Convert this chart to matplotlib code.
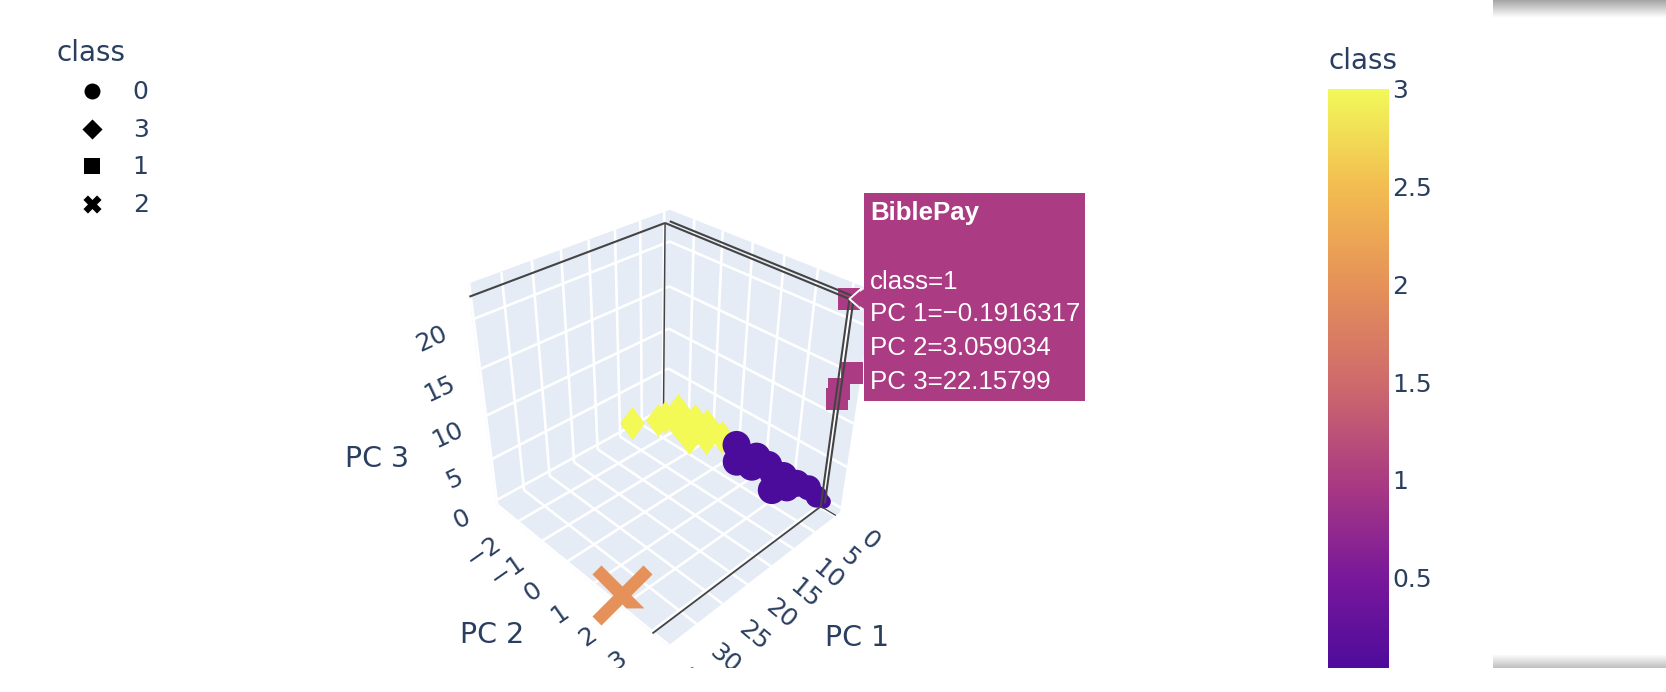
import numpy as np
import matplotlib
matplotlib.use("Agg")
import matplotlib.pyplot as plt
from matplotlib.colors import LinearSegmentedColormap
from matplotlib.patches import Rectangle, Polygon
from matplotlib.path import Path
from matplotlib.transforms import ScaledTranslation

# ---- data -----------------------------------------------------------------
class0_pc1 = [0.07, 3.32, 2.56, 0.06, 0.35, 1.38, 0.77, 4.65, 2.7, 0.67, 0.2, 0.96, 1.08]
class0_pc2 = [0.09, 0.6, 1.03, 0.83, 1.29, 1.62, 1.88, 2.04, 2.27, 2.32, 2.65, 3.02, 3.27]
class0_pc3 = [1.0] * 13
class3_pc1 = [8.24, 4.51, 2.94, -0.09, -0.04, -0.42, 0.17, 4.33, 0.54, 2.33, 2.87, 2.25]
class3_pc2 = [-2.7, -2.31, -2.28, -2.25, -1.56, -1.15, -0.46, -1.04, -0.86, -1.49, -1.81, -0.75]
class3_pc3 = [1.0] * 12
class1_pc1 = [-0.1916317, -0.19, -0.19, -0.19]
class1_pc2 = [3.059034, 3.4, 3.12, 3.09]
class1_pc3 = [22.15799, 15.45, 13.25, 12.13]
class2_pc1 = [35.19]
class2_pc2 = [2.04]
class2_pc3 = [1.0]
pc1_ticks = [0, 5, 10, 15, 20, 25, 30, 35]
pc2_ticks = [-2, -1, 0, 1, 2, 3]
pc3_ticks = [0, 5, 10, 15, 20]
cbar_ticks = [0.5, 1, 1.5, 2, 2.5, 3]
cbar_labels = ["0.5", "1", "1.5", "2", "2.5", "3"]
legend_classes = ["0", "3", "1", "2"]
hover_lines = ["class=1", "PC 1=\u22120.1916317", "PC 2=3.059034", "PC 3=22.15799"]

# ---- scene camera: axis ranges and the box corners on screen ---------------
xr = (-1.2, 35.2); yr = (-2.9, 3.55); zr = (-0.6, 23.35)
corners = [((0,0,0),(669,405)),((1,0,0),(496,508)),((1,1,0),(670,646)),((0,1,0),(836.5,516)),
           ((0,0,1),(669,209)),((1,0,1),(467,289)),((1,1,1),(670,392)),((0,1,1),(877,295))]
A = []
for (i,j,k),(u,v) in corners:
    X = [xr[i], yr[j], zr[k], 1.0]
    A.append(X+[0,0,0,0]+[-u*a for a in X])
    A.append([0,0,0,0]+X+[-v*a for a in X])
P = np.linalg.svd(np.array(A))[2][-1].reshape(3,4)
def proj(x, y, z):
    x = np.asarray(x, float)
    h = P @ np.vstack([x, np.asarray(y, float), np.asarray(z, float), np.ones_like(x)])
    return h[0]/h[2], h[1]/h[2]
def proj1(x, y, z):
    u, v = proj([x], [y], [z])
    return float(u[0]), float(v[0])

W, H = 1666, 692
CLIP_H = 667.5
fig = plt.figure(figsize=(W/100, H/100), dpi=100, facecolor="white")
ax = fig.add_axes([0, 1-CLIP_H/H, 1, CLIP_H/H])
ax.set_xlim(0, W); ax.set_ylim(CLIP_H, 0); ax.axis("off")

FONT = "DejaVu Sans"; INK = "#2a3f5f"; PANE = "#E5ECF6"
PURPLE = "#4C0C9B"; YELLOW = "#F3F955"; MAGENTA = "#AB3B82"; ORANGE = "#E59159"

def pane(pts):
    xy = [proj1(*p) for p in pts]
    ax.add_patch(Polygon(xy, closed=True, fc=PANE, ec="none", zorder=1))
def line3(a, b, **kw):
    u, v = proj([a[0],b[0]], [a[1],b[1]], [a[2],b[2]])
    ax.plot(u, v, solid_capstyle="butt", **kw)

x0,x1 = xr; y0,y1 = yr; z0,z1 = zr
pane([(x0,y0,z0),(x1,y0,z0),(x1,y1,z0),(x0,y1,z0)])
pane([(x0,y0,z0),(x1,y0,z0),(x1,y0,z1),(x0,y0,z1)])
pane([(x0,y0,z0),(x0,y1,z0),(x0,y1,z1),(x0,y0,z1)])
G = dict(color="white", lw=1.9, zorder=2)
for t in pc1_ticks:
    line3((t,y0,z0),(t,y1,z0),**G); line3((t,y0,z0),(t,y0,z1),**G)
for t in pc2_ticks:
    line3((x0,t,z0),(x1,t,z0),**G); line3((x0,t,z0),(x0,t,z1),**G)
for t in pc3_ticks:
    line3((x0,y0,t),(x1,y0,t),**G); line3((x0,y0,t),(x0,y1,t),**G)

# spike lines of the hovered point
hx, hy, hz = class1_pc1[0], class1_pc2[0], class1_pc3[0]
SP = "#444444"
line3((hx,y0,hz),(hx,y0,z0), color=SP, lw=1.1, zorder=3)

# markers
r = np.array([14,14,14,14,14,14,14,14,13,13.5,12.5,11,7])
ax.scatter(*proj(class3_pc1,class3_pc2,class3_pc3),
           s=566, c=YELLOW, lw=0, zorder=4,
           marker=Path([(0,1),(.75,0),(0,-1),(-.75,0),(0,1)], closed=True))
ax.scatter(*proj(class0_pc1,class0_pc2,class0_pc3),
           s=(2*r/1.389)**2, c=PURPLE, lw=0, marker="o", zorder=5)
ax.scatter(*proj(class1_pc1,class1_pc2,class1_pc3),
           s=229, c=MAGENTA, lw=0, marker="s", zorder=5)
d = 0.3
# plotly's x marker, its lower right arm cut flat as in the reference
X_SHAPE = Path([(-1+d,-1),(0,-d),(.13,-.43),(.73,-.43),(d,0),(1,1-d),(1-d,1),(0,d),(-1+d,1),(-1,1-d),(-d,0),(-1,-1+d),(-1+d,-1)], closed=True)
ax.scatter(*proj(class2_pc1,class2_pc2,class2_pc3),
           s=1870, c=ORANGE, lw=0, marker=X_SHAPE, zorder=6)

S2 = dict(color=SP, lw=1.5, zorder=7)
line3((hx,y0,hz),(x1,y0,hz),**S2)
line3((hx,y0,hz),(hx,hy,hz),**S2)
line3((x0,y0,hz),(x0,hy,hz),**S2)
line3((x0,hy,hz),(x0,hy,z0),**S2)
line3((hx,hy,hz),(hx,hy,z0),**S2)
line3((hx,hy,z0),(x1,hy,z0),color=SP, lw=1.3, zorder=7)
line3((hx,hy,z0),(hx,y1,z0),color=SP, lw=0.9, zorder=7)

# tick labels (their offset grows toward the camera, as in a 3-D scene)
TK = dict(family=FONT, color=INK, fontsize=18, ha="center", va="center", clip_on=True, zorder=8)
for t in pc1_ticks:
    u, v = proj1(t, y1, z0)
    ax.text(u+35-10*(t/35)**3, v+25+10*(t/30)**2, str(t), rotation=-40, rotation_mode="anchor", **TK)
for t in pc2_ticks:
    u, v = proj1(x1, t, z0)
    ax.text(u-33, v+29, str(t).replace("-", "\u2212"), rotation=35, rotation_mode="anchor", **TK)
for t in pc3_ticks:
    u, v = proj1(x1, y0, t)
    ax.text(u-34-0.35*t, v+19, str(t), rotation=25, rotation_mode="anchor", **TK)
AT = dict(family=FONT, color=INK, fontsize=20.5, ha="center", va="center")
ax.text(377, 459, "PC 3", **AT)
ax.text(492, 635, "PC 2", **AT)
ax.text(857, 637.5, "PC 1", **AT)

# hover label
tip = proj1(hx, hy, hz)
ax.add_patch(Rectangle((864,193), 221, 208, fc=MAGENTA, ec="none", zorder=9))
ax.add_patch(Polygon([tip,(866,tip[1]-11),(866,tip[1]+11)], closed=True, fc=MAGENTA, ec="none", zorder=9))
ax.plot([tip[0]+12,tip[0],tip[0]+12],[tip[1]-10.5,tip[1],tip[1]+10.5], color="white", lw=1.4, zorder=10)
HV = dict(family="Liberation Sans", color="white", fontsize=18.6, ha="left", va="center", zorder=11)
ax.text(870, 213, "BiblePay", fontweight="bold", **HV)
for yy, s in zip([281.7, 314, 348, 381.7], hover_lines):
    ax.text(870, yy, s, **HV)

# legend
fig.text(56/W, 1-53/H, "class", family=FONT, color=INK, fontsize=20, ha="left", va="center")
lax = fig.add_axes([0,0,1,1], facecolor="none"); lax.set_xlim(0,W); lax.set_ylim(H,0); lax.axis("off")
for yy, m, s, lab in zip([90.7,129,166,204], ["o","D","s","X"], [132,105,132,170], legend_classes):
    lax.scatter([91.7],[yy], marker=m, s=s, c="black", lw=0)
    lax.text(132.7, yy+1, lab, family=FONT, color=INK, fontsize=18, ha="left", va="center")

# colour bar
stops = [(0.05,"#4F0C9C"),(0.5,"#78189B"),(1.0,"#AB3B82"),(1.5,"#CE6A6D"),(2.0,"#E59159"),(2.5,"#F3BB51"),(3.01,"#F1F95A")]
vmin, vmax = stops[0][0], stops[-1][0]
cmap = LinearSegmentedColormap.from_list("cb", [((v-vmin)/(vmax-vmin), c) for v, c in stops])
cax = fig.add_axes([1328/W, 1-667.7/H, 60/W, (667.7-89)/H])
cax.imshow(np.linspace(vmax, vmin, 256)[:,None], cmap=cmap, vmin=vmin, vmax=vmax, aspect="auto", extent=[0,1,vmin,vmax])
cax.set_xticks([]); cax.yaxis.tick_right()
cax.set_yticks(cbar_ticks); cax.set_yticklabels(cbar_labels, family=FONT, color=INK, fontsize=18)
cax.tick_params(axis="y", length=0, pad=3)
up = ScaledTranslation(0, 2/100, fig.dpi_scale_trans)
for lb in cax.get_yticklabels():
    lb.set_transform(lb.get_transform() + up)
for sp in cax.spines.values(): sp.set_visible(False)
fig.text(1328/W, 1-61/H, "class", family=FONT, color=INK, fontsize=20, ha="left", va="center")

# browser-panel shadows at the right edge
sa = fig.add_axes([1493/W, 1-18/H, (W-1493)/W, 18/H]); sa.axis("off")
sa.imshow(np.linspace(0.58,1,32)[:,None]**0.8, cmap="gray", vmin=0, vmax=1, aspect="auto")
sb = fig.add_axes([1493/W, 1-667.7/H, (W-1493)/W, 13/H]); sb.axis("off")
sb.imshow(np.linspace(1,0.75,32)[:,None], cmap="gray", vmin=0, vmax=1, aspect="auto")

fig.savefig("out.png", dpi=100, facecolor="white")
